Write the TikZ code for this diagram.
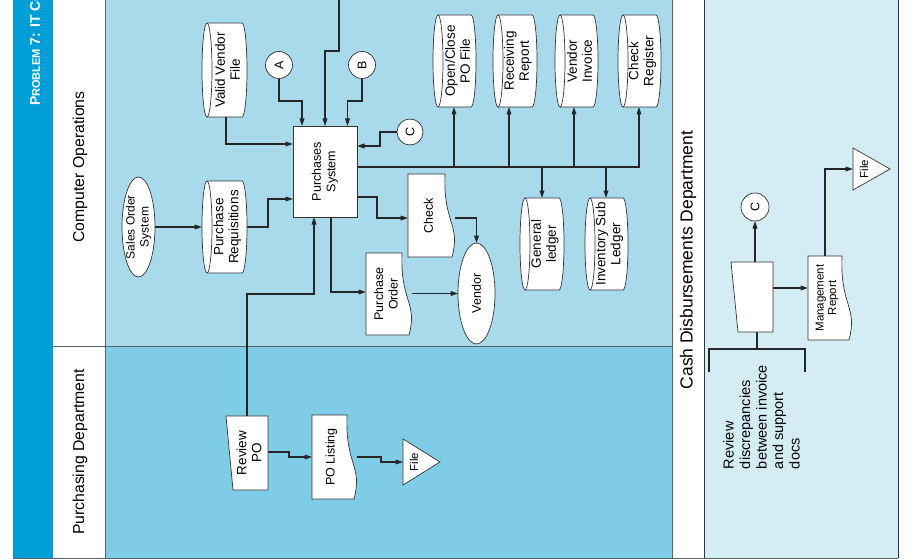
\documentclass[tikz,border=0pt]{standalone}
\usepackage{fontspec}
\setmainfont{Liberation Sans}
\usetikzlibrary{arrows.meta,calc,shapes.geometric}
\pgfdeclarelayer{lanes}
\pgfdeclarelayer{wires}
\pgfsetlayers{lanes,wires,main}

\definecolor{barblue}{HTML}{009ED6}
\definecolor{laneA}{HTML}{A8DAEB}
\definecolor{laneB}{HTML}{7FCCE6}
\definecolor{panelC}{HTML}{D4ECF4}
\definecolor{wirec}{HTML}{262626}
\definecolor{shpline}{HTML}{333333}
\definecolor{framec}{HTML}{5A6468}

\newcommand\fsA{\fontsize{13.5}{15}\selectfont}
\newcommand\fsB{\fontsize{12.5}{14.5}\selectfont}
\newcommand\fsS{\fontsize{12}{14}\selectfont}
\newcommand\fsC{\fontsize{11.5}{12.5}\selectfont}
\newcommand\fsH{\fontsize{15.8}{18}\selectfont}

\tikzset{
  every node/.style={inner sep=0pt, outer sep=0pt},
  anch/.style={rectangle, draw=none, inner sep=0pt, outer sep=0pt},
  outln/.style={draw=shpline, line width=0.7pt},
  shp/.style={draw=shpline, line width=0.7pt, fill=white},
  txt/.style={rotate=90, align=center, inner sep=0pt, text=black},
  arr/.style={draw=wirec, line width=1.1pt, -{Triangle[length=7.5pt,width=4.8pt]}},
  conn/.style={draw=wirec, line width=1.1pt},
  brk/.style={draw=wirec, line width=1.8pt},
  frame/.style={draw=framec, line width=0.9pt},
  frameD/.style={draw=shpline, line width=1pt},
}

% cylinder: name, x0, y0, x1, y1, font, text
\newcommand\cylnode[7]{%
  \node[anch, minimum width={#4-#2}, minimum height={#5-#3}] (#1) at ({(#2+#4)/2},{(#3+#5)/2}) {};
  \fill[white] ({#2+5},#3) -- ({#4-5},#3) arc[start angle=-90, end angle=90, x radius=5, y radius={(#5-#3)/2}] -- ({#2+5},#5) -- cycle;
  \draw[outln] ({#2+5},#3) -- ({#4-5},#3) arc[start angle=-90, end angle=90, x radius=5, y radius={(#5-#3)/2}] -- ({#2+5},#5);
  \draw[shp] ({#2+5},{(#3+#5)/2}) ellipse [x radius=5, y radius={(#5-#3)/2}];
  \node[txt, font=#6] (#1t) at ([xshift=3]#1.center) {#7};
}
% document: name, x0, y0, x1, y1, font, text
\newcommand\docnode[7]{%
  \node[anch, minimum width={#4-#2}, minimum height={#5-#3}] (#1) at ({(#2+#4)/2},{(#3+#5)/2}) {};
  \draw[shp] (#2,#3) -- ({#4-10},#3) .. controls ({#4-12},{#3+0.6*(#5-#3)}) and ({#4+6},{#3+0.6*(#5-#3)}) .. ({#4-3},#5) -- (#2,#5) -- cycle;
  \node[txt, font=#6] (#1t) at ([xshift=-3]#1.center) {#7};
}
% manual input: name, x0, y0, x1, y1, font, text
\newcommand\maninode[7]{%
  \node[anch, minimum width={#4-#2}, minimum height={#5-#3}] (#1) at ({(#2+#4)/2},{(#3+#5)/2}) {};
  \draw[shp] (#2,#3) -- (#4,#3) -- (#4,#5) -- ({#2+7},#5) -- cycle;
  \node[txt, font=#6] (#1t) at ([xshift=2]#1.center) {#7};
}
% file triangle: name, x0, y0, x1, y1, font
\newcommand\filenode[6]{%
  \node[anch, minimum width={#4-#2}, minimum height={#5-#3}] (#1) at ({(#2+#4)/2},{(#3+#5)/2}) {};
  \draw[shp] (#2,#3) -- (#4,{(#3+#5)/2}) -- (#2,#5) -- cycle;
  \node[txt, font=#6] (#1t) at ({#2+0.3*(#4-#2)},{(#3+#5)/2}) {File};
}

\begin{document}
\begin{tikzpicture}[x=1pt,y=-1pt]
\useasboundingbox (0,0) rectangle (921,559);
\clip (0,0) rectangle (921,559);

\begin{pgfonlayer}{lanes}
  \fill[barblue] (13,0) rectangle (53,558);
  \fill[laneA] (105,0) rectangle (672,346);
  \fill[laneB] (105,346) rectangle (672,558);
  \fill[panelC] (704,0) rectangle (898,558);
  \draw[frame] (53,346) -- (672,346);
  \draw[frame] (105,0) -- (105,558);
  \draw[frame] (672,0) -- (672,558);
  \draw[frameD] (704,0) -- (704,558);
  \draw[frameD] (898,0) -- (898,558);
  \draw[frame] (13,558) -- (898,558);
\end{pgfonlayer}

% headers
\node[txt, anchor=west, text=white, font=\bfseries\fontsize{14}{14}\selectfont] (ttl) at (35,106) {P{\fontsize{11}{11}\selectfont ROBLEM} 7: IT Co};
\node[txt, font=\fsH] (hco) at (80,167) {Computer Operations};
\node[txt, font=\fsH] (hpd) at (80,452) {Purchasing Department};
\node[txt, font=\fontsize{17.5}{20}\selectfont] (hcd) at (688,260) {Cash Disbursements Department};

% computer operations
\cylnode{vvf}{202}{23}{247}{117}{\fsA}{Valid Vendor\\File}
\cylnode{pr}{202}{181}{247}{273}{\fsA}{Purchase\\Requisitions}
\cylnode{ocpo}{433}{15}{476}{107}{\fsA}{Open/Close\\PO File}
\cylnode{rr}{493}{15}{537}{107}{\fsA}{Receiving\\Report}
\cylnode{vi}{555}{15}{598}{107}{\fsA}{Vendor\\Invoice}
\cylnode{cr}{618}{15}{661}{107}{\fsA}{Check\\Register}
\cylnode{gl}{520}{198}{564}{290}{\fsA}{General\\ledger}
\cylnode{isl}{585}{198}{628}{290}{\fsA}{Inventory Sub\\Ledger}

\node[shp, minimum width=64, minimum height=91] (ps) at (325,171.5) {};
\node[txt, font=\fsB] (pst) at (ps) {Purchases\\System};
\node[shp, ellipse, minimum width=33, minimum height=100] (sos) at (138.5,227) {};
\node[txt, font=\fsS] (sost) at (sos) {Sales Order\\System};
\node[shp, circle, minimum size=27] (cA) at (279,65) {};
\node[txt, font=\fsB] (cAt) at (cA) {A};
\node[shp, circle, minimum size=27] (cB) at (362,65) {};
\node[txt, font=\fsB] (cBt) at (cB) {B};
\node[shp, circle, minimum size=26] (cC) at (410,132) {};
\node[txt, font=\fsB] (cCt) at (cC) {C};

\docnode{chk}{408}{174}{455}{257}{\fsB}{Check}
\docnode{po}{366}{253}{412}{335}{\fsB}{Purchase\\Order}
\node[shp, ellipse, minimum width=37, minimum height=101] (vend) at (476.5,293.5) {};
\node[txt, font=\fsB] (vendt) at (vend) {Vendor};

% purchasing
\maninode{rpo}{226}{416}{268}{490}{\fsA}{Review\\PO}
\docnode{pol}{312}{415}{357}{499}{\fsB}{PO Listing}
\filenode{fl1}{403}{439}{440}{485}{\fsC}

% cash disbursements
\node[shp, circle, minimum size=28] (cC2) at (755,207) {};
\node[txt, font=\fsB] (cC2t) at (cC2) {C};
\maninode{rv}{731}{262}{773}{332}{\fsA}{}
\docnode{mr}{808}{256}{852}{340}{\fsC}{Management\\Report}
\filenode{fl2}{853}{148}{890}{190}{\fsC}
\node[txt, align=left, anchor=north west, font=\fontsize{14.5}{16.5}\selectfont] (note) at (723,469) {Review\\discrepancies\\between invoice\\and support\\docs};

\coordinate (topin) at (339,-2);

\begin{pgfonlayer}{wires}
  \draw[arr] (vvf.south -| 226,0) |- (ps.west |- 0,144);
  \draw[arr] (cA.south) |- (302,101) -- (ps.north -| 302,0);
  \draw[arr] (topin) |- (325,51) -- (ps.north -| 325,0);
  \draw[arr] (cB.south) |- (347.5,101) -- (ps.north -| 347.5,0);
  \draw[arr] (cC.west) -| (380,146) -- (ps.east |- 0,146);
  \draw[arr] (sos.east) -- (pr.west |- sos.east);
  \draw[arr] (pr.east |- 0,227) -| (268,199) -- (ps.west |- 0,199);
  \draw[arr] (ps.east |- 0,167) -| (cr.south -| 639,0);
  \draw[arr] (454,167) -- (ocpo.south -| 454,0);
  \draw[arr] (509,167) -- (rr.south -| 509,0);
  \draw[arr] (574,167) -- (vi.south -| 574,0);
  \draw[arr] (542,167) -- (gl.north -| 542,0);
  \draw[arr] (606,167) -- (isl.north -| 606,0);
  \draw[arr] (ps.east |- 0,197) -| (377,218) -- (chk.west |- 0,218);
  \draw[arr] (chk.east |- 0,218) -| (vend.north);
  \draw[arr] (rpo.north) |- (314,294) -- (ps.south -| 314,0);
  \draw[arr] (ps.south -| 331,0) |- (po.west |- 0,292);
  \draw[arr] (po.east |- vend.west) -- (vend.west);
  \draw[arr] (rpo.east |- 0,452) -| (289,457) -- (pol.west |- 0,457);
  \draw[arr] (pol.east |- 0,457) -| (381,462) -- (fl1.west |- 0,462);
  \draw[arr] (rv.north -| 755,0) -- (cC2.south);
  \draw[arr] (rv.east |- 0,288) -- (mr.west |- 0,288);
  \draw[arr] (mr.north -| 825,0) |- (fl2.west);
  \draw[brk] (rv.south -| 757,0) -- (757,349);
  \draw[brk] (709,372) -- (709,349) -- (805,349) -- (805,372);
\end{pgfonlayer}
\end{tikzpicture}
\end{document}
